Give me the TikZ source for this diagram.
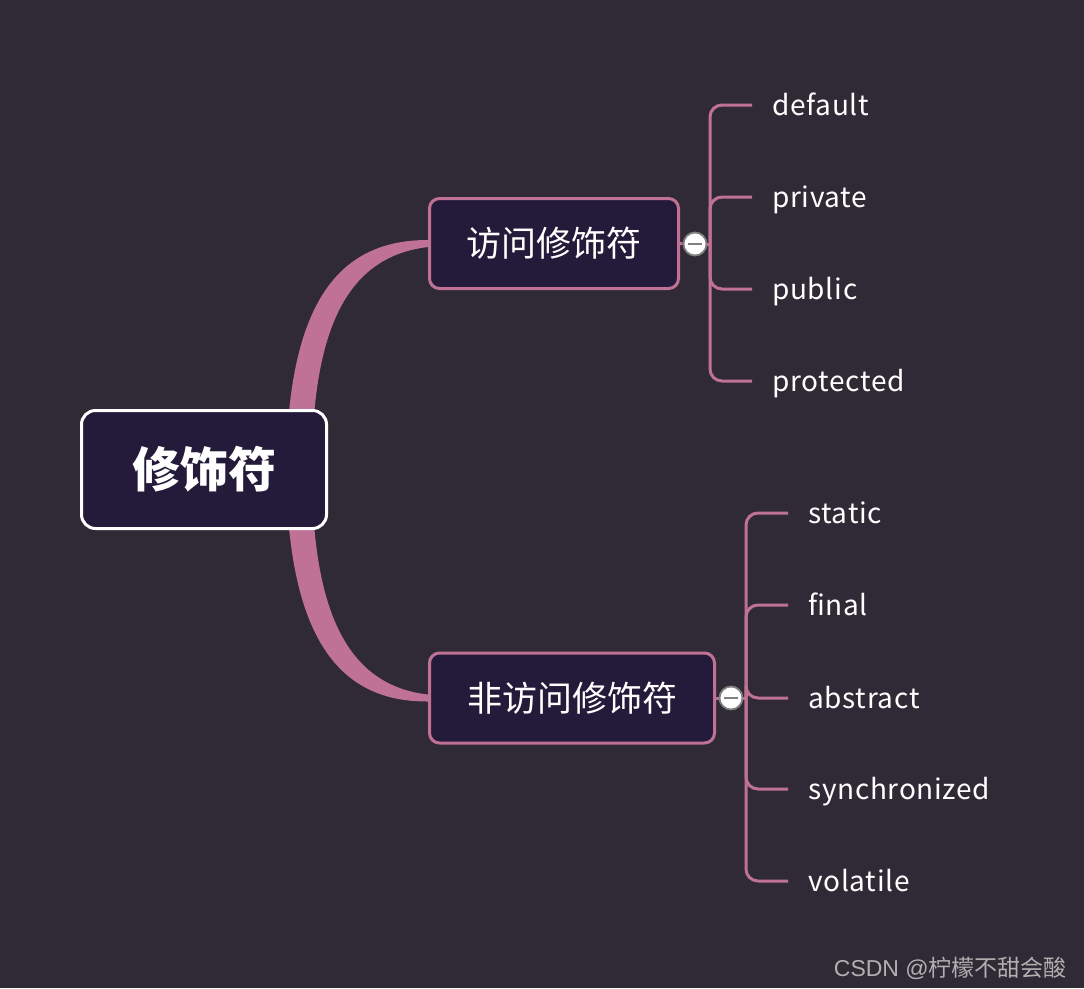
\documentclass[tikz,border=0pt]{standalone}
\usepackage{fontspec}
\setmainfont{Noto Sans CJK SC}
\newfontfamily\wmfont{Liberation Sans}
\newfontfamily\wmcjk{Noto Sans CJK SC}
\newfontfamily\leaffont[LetterSpace=2.5]{Noto Sans CJK SC}
\usetikzlibrary{backgrounds}
\definecolor{bg}{RGB}{47,42,53}
\definecolor{boxfill}{RGB}{35,27,57}
\definecolor{pinkc}{RGB}{192,114,150}
\definecolor{graycirc}{RGB}{128,128,128}
\definecolor{wm}{RGB}{176,176,176}
\tikzset{
  rootbox/.style={draw=white, line width=3pt, fill=boxfill, rounded corners=14pt,
    minimum width=245pt, minimum height=118pt, inner sep=0pt, text=white,
    font=\fontsize{48}{56}\selectfont\bfseries},
  childbox/.style={draw=pinkc, line width=3pt, fill=boxfill, rounded corners=10pt,
    minimum height=90pt, inner sep=0pt, text=white,
    font=\fontsize{35}{42}\selectfont},
  leaftext/.style={anchor=west, inner sep=0pt, text height=24pt, text depth=4pt,
    text=white, font=\leaffont\fontsize{28}{34}\selectfont},
  leafline/.style={draw=pinkc, line width=3pt, rounded corners=12pt},
  foldcirc/.style={circle, draw=graycirc, fill=white, line width=1.8pt,
    minimum size=23pt, inner sep=0pt},
  foldbar/.style={draw=graycirc, line width=2pt},
}
\begin{document}
\begin{tikzpicture}[x=1pt,y=-1pt]
\useasboundingbox (0,0) rectangle (1084,988);

% nodes
\node[rootbox] (root) at (204,469.5) {修饰符};
\node[childbox, minimum width=249pt] (c1) at (554,243.5) {访问修饰符};
\node[childbox, minimum width=285pt] (c2) at (572,698) {非访问修饰符};

\node[foldcirc] (k1) at (695,244) {};
\node[foldcirc] (k2) at (731,698) {};
\coordinate (j1) at (710,244);
\coordinate (j2) at (746,698);

\node[leaftext] (l1) at (772,105) {default};
\node[leaftext] (l2) at (772,197) {private};
\node[leaftext] (l3) at (772,289) {public};
\node[leaftext] (l4) at (772,381) {protected};

\node[leaftext] (m1) at (808,513) {static};
\node[leaftext] (m2) at (808,605) {final};
\node[leaftext] (m3) at (808,698) {abstract};
\node[leaftext] (m4) at (808,789) {synchronized};
\node[leaftext] (m5) at (808,881) {volatile};

\node[anchor=base east, inner sep=0pt, text=wm] (wmk) at (1067,976)
  {\fontsize{23}{28}\selectfont\wmfont CSDN @\wmcjk 柠檬不甜会酸};

\begin{scope}[on background layer]
  \fill[bg] (0,0) rectangle (1084,988);
  % tapered main branches
  \fill[pinkc] (root.center) ++(82,0) .. controls (288,300) and (340,240) .. ([yshift=3.5pt]c1.west)
     -- ([yshift=-3.5pt]c1.west) .. controls (352,256) and (312,320) .. (312,470) -- cycle;
  \fill[pinkc] (root.center) ++(82,0) .. controls (288,640) and (340,702) .. ([yshift=-3.5pt]c2.west)
     -- ([yshift=3.5pt]c2.west) .. controls (352,686) and (312,620) .. (312,470) -- cycle;
  % fold connectors
  \draw[leafline] (c1.east) -- (k1);
  \draw[leafline] (c2.east) -- (k2);
\end{scope}

\draw[leafline] (k1.east) -- (j1);
\draw[leafline] (k2.east) -- (j2);
\foreach \n in {l1,l2,l3,l4}{
  \draw[leafline] (j1) |- ([xshift=-20pt]\n.west);
}
\foreach \n in {m1,m2,m3,m4,m5}{
  \draw[leafline] (j2) |- ([xshift=-20pt]\n.west);
}
\draw[foldbar] ([xshift=-7pt]k1.center) -- ([xshift=7pt]k1.center);
\draw[foldbar] ([xshift=-7pt]k2.center) -- ([xshift=7pt]k2.center);
\end{tikzpicture}
\end{document}
